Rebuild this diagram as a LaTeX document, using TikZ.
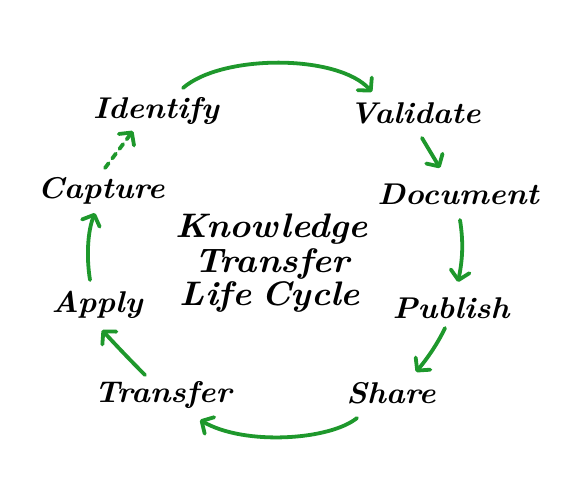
\documentclass[tikz,border=0pt]{standalone}
\usetikzlibrary{arrows.meta,calc}
\definecolor{arrgreen}{RGB}{30,152,44}
\newcommand{\stretchtxt}[1]{\scalebox{1.06}[1]{#1}}
\begin{document}
\begin{tikzpicture}[x=1pt,y=-1pt,
  lbl/.style={font=\fontsize{30}{32}\selectfont\bfseries\itshape, inner sep=0pt, anchor=base},
  ttl/.style={font=\fontsize{34}{36}\selectfont\bfseries\itshape, inner sep=0pt, anchor=base},
  arr/.style={draw=arrgreen, line width=3.8pt, line cap=round,
    -{Straight Barb[length=9pt,width=19pt,line width=3.8pt,round]}},
  dsh/.style={arr, dash pattern=on 6pt off 6pt}
]
\useasboundingbox[fill=white] (0,0) rectangle (576,495);
\node[lbl] (identify) at (156,118) {\stretchtxt{Identify}};
\node[lbl] (validate) at (415,123) {\stretchtxt{Validate}};
\node[lbl] (document) at (458,204) {\stretchtxt{Document}};
\node[lbl] (publish)  at (451,318) {\stretchtxt{Publish}};
\node[lbl] (share)    at (391,403) {\stretchtxt{Share}};
\node[lbl] (transfer) at (163,402) {\stretchtxt{Transfer}};
\node[lbl] (apply)    at (97,312)  {\stretchtxt{Apply}};
\node[lbl] (capture)  at (101,198) {\stretchtxt{Capture}};
\node[ttl] (title1) at (272,237) {\stretchtxt{Knowledge}};
\node[ttl] (title2) at (272,272) {\stretchtxt{Transfer}};
\node[ttl] (title3) at (270,305) {\stretchtxt{Life\kern-5pt\ Cycle}};
% connectors
\draw[arr] ($(identify.base)+(27,-30)$) .. controls (222,54) and (338,54) .. ($(validate.base)+(-43,-31)$);
\draw[arr] ($(validate.base)+(7,15)$) -- ($(document.base)+(-18,-36)$);
\draw[arr] ($(document.base)+(2,16)$) .. controls (464,245) and (462,262) .. ($(publish.base)+(7,-36)$);
\draw[arr] ($(publish.base)+(-6,10)$) .. controls (437,345) and (426,360) .. ($(share.base)+(25,-31)$);
\draw[arr] ($(share.base)+(-34,15)$) .. controls (330,440) and (245,446) .. ($(transfer.base)+(37,18)$);
\draw[arr] ($(transfer.base)+(-18,-27)$) .. controls (130,360) and (113,342) .. ($(apply.base)+(5,18)$);
\draw[arr] ($(apply.base)+(-7,-32)$) .. controls (86,255) and (88,230) .. ($(capture.base)+(-6,15)$);
\draw[dsh] ($(capture.base)+(4,-30)$) -- ($(identify.base)+(-23,13)$);
\end{tikzpicture}
\end{document}
